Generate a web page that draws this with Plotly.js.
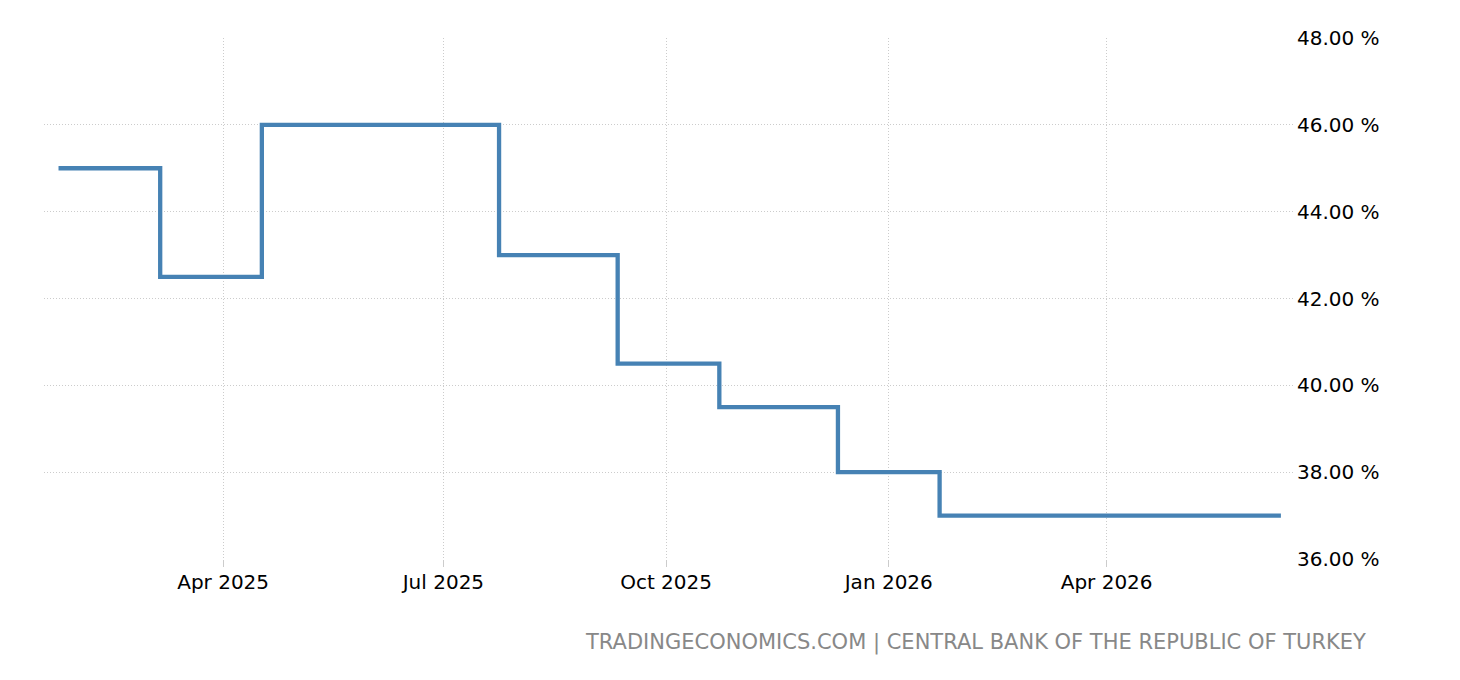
<!DOCTYPE html>
<html>
<head>
<meta charset="utf-8">
<script src="https://cdn.plot.ly/plotly-3.0.1.min.js"></script>
<style>
html,body{margin:0;padding:0;background:#fff;}
#chart{width:1460px;height:680px;}
</style>
</head>
<body>
<div id="chart"></div>
<script>
const dates = ["2025-01-23","2025-03-06","2025-04-17","2025-07-24","2025-09-11","2025-10-23","2025-12-11","2026-01-22","2026-06-12"];
const rates = [45.0, 42.5, 46.0, 43.0, 40.5, 39.5, 38.0, 37.0, 37.0];
const tickDates = ["2025-04-01","2025-07-01","2025-10-01","2026-01-01","2026-04-01"];
const tickLabels = ["Apr 2025","Jul 2025","Oct 2025","Jan 2026","Apr 2026"];
const yTicks = [36,38,40,42,44,46,48];
const yTickLabels = ["36.00 %","38.00 %","40.00 %","42.00 %","44.00 %","46.00 %","48.00 %"];
const sourceText = "TRADINGECONOMICS.COM | CENTRAL BANK OF THE REPUBLIC OF TURKEY";

const trace = {
  x: dates, y: rates, type: "scatter", mode: "lines",
  line: {shape: "hv", color: "#4682B4", width: 4.3},
  hoverinfo: "x+y"
};

const grid = {showgrid: true, gridcolor: "#cccccc", griddash: "1px,2px", gridwidth: 1};

const layout = {
  width: 1460, height: 680,
  margin: {l: 44, r: 167, t: 38, b: 121},
  paper_bgcolor: "#fff", plot_bgcolor: "#fff",
  showlegend: false,
  font: {family: "DejaVu Sans, Verdana, sans-serif", size: 20, color: "#000"},
  xaxis: Object.assign({
    type: "date",
    range: ["2025-01-17 00:00", "2026-06-17"],
    tickmode: "array", tickvals: tickDates, ticktext: tickLabels,
    ticks: "outside", ticklen: 7, tickcolor: "#cccccc", tickwidth: 1,
    ticklabelstandoff: -2,
    showline: false, zeroline: false,
    tickfont: {size: 20, color: "#000"}
  }, grid),
  yaxis: Object.assign({
    side: "right",
    range: [36, 48],
    tickmode: "array", tickvals: yTicks, ticktext: yTickLabels,
    showline: false, zeroline: false, ticks: "",
    ticklabelstandoff: 3,
    tickfont: {size: 20, color: "#000"}
  }, grid),
  annotations: [{
    xref: "paper", yref: "paper",
    x: (1368-44)/(1460-44-167), y: -(642-559)/(680-38-121),
    xanchor: "right", yanchor: "middle",
    text: sourceText, showarrow: false,
    font: {family: "DejaVu Sans, sans-serif", size: 21, color: "#888888"}
  }]
};

Plotly.newPlot("chart", [trace], layout, {displayModeBar: false, staticPlot: true});
</script>
</body>
</html>
